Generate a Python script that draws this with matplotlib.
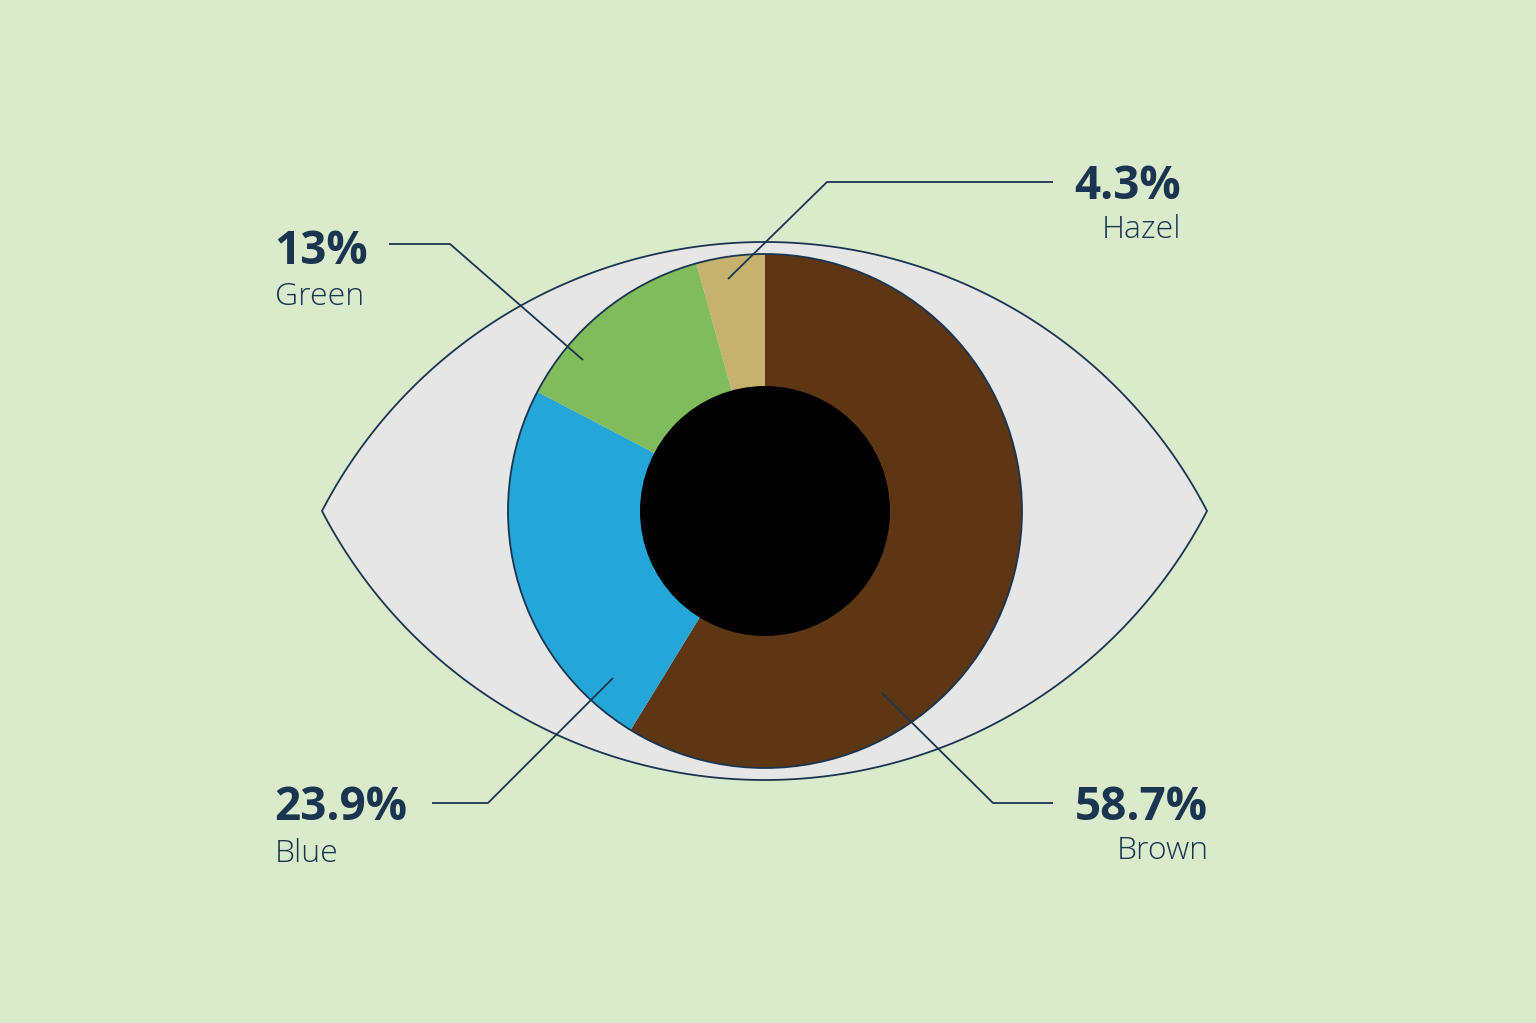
import numpy as np
import matplotlib
matplotlib.use("Agg")
import matplotlib.pyplot as plt
from matplotlib.patches import Polygon, Circle

# ---- data ----
categories = ["Brown", "Blue", "Green", "Hazel"]
shares = [58.7, 23.9, 13.0, 4.3]
pct_labels = ["58.7%", "23.9%", "13%", "4.3%"]
colors = ["#5D3614", "#24A7D8", "#80BC5B", "#C4B26E"]

BG = "#D9EBCB"
WHITE = "#E6E6E6"
NAVY = "#1B3550"

W, H = 1536, 1023
fig = plt.figure(figsize=(W / 100, H / 100), dpi=100)
fig.patch.set_facecolor(BG)
ax = fig.add_axes([0, 0, 1, 1])
ax.set_xlim(0, W)
ax.set_ylim(0, H)
ax.axis("off")

def Y(py):
    return H - py

cx, cy = 765, Y(511)

# ---- eye (two circular arcs) ----
xl, xr = 322, 1207
half = (xr - xl) / 2
sag = 269
R = (half ** 2 + sag ** 2) / (2 * sag)
mx = (xl + xr) / 2
a0 = np.arcsin(half / R)
t = np.linspace(-a0, a0, 300)
top = np.column_stack([mx + R * np.sin(t), cy - (R - sag) + R * np.cos(t)])
bot = np.column_stack([mx + R * np.sin(t[::-1]), cy + (R - sag) - R * np.cos(t[::-1])])
eye = Polygon(np.vstack([top, bot]), closed=True, facecolor=WHITE,
              edgecolor=NAVY, lw=1.3, zorder=1)
ax.add_patch(eye)

# ---- iris donut ----
r_iris = 257
ax.pie(shares, colors=colors, startangle=90, counterclock=False,
       center=(cx, cy), radius=r_iris, frame=True,
       wedgeprops=dict(linewidth=0, edgecolor="none", zorder=2))
ax.set_xlim(0, W)
ax.set_ylim(0, H)
ax.axis("off")
ax.add_patch(Circle((cx, cy), r_iris, facecolor="none", edgecolor=NAVY, lw=1.3, zorder=3))
ax.add_patch(Circle((cx, cy), 125, facecolor="black", edgecolor="none", zorder=4))

# ---- labels and leader lines ----
layout = {
    "Green": ((274, 264), (275, 305), "left", [(389, 244), (450, 244), (583, 360)]),
    "Hazel": ((1181, 199), (1181, 238), "right", [(1053, 182), (827, 182), (728, 279)]),
    "Blue": ((274, 820), (275, 862), "left", [(432, 803), (488, 803), (613, 678)]),
    "Brown": ((1208, 820), (1209, 859), "right", [(1053, 803), (993, 803), (882, 693)]),
}

for cat, pct in zip(categories, pct_labels):
    (px, py), (nx, ny), ha, pts = layout[cat]
    xs = [p[0] for p in pts]
    ys = [Y(p[1]) for p in pts]
    ax.plot(xs, ys, color=NAVY, lw=1.3, zorder=5, solid_capstyle="butt")
    ax.text(px, Y(py), pct, ha=ha, va="baseline", fontsize=33,
            fontweight="bold", color=NAVY, family="Open Sans", zorder=6)
    ax.text(nx, Y(ny), cat, ha=ha, va="baseline", fontsize=23,
            fontweight="light", color=NAVY, family="Open Sans", zorder=6)

fig.savefig("out.png", dpi=100, facecolor=BG)
